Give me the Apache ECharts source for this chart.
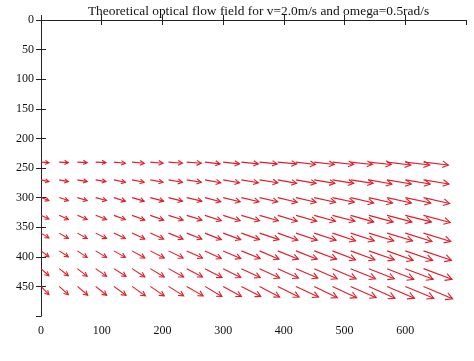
<!DOCTYPE html>
<html><head><meta charset="utf-8">
<script src="https://cdn.jsdelivr.net/npm/echarts@6/dist/echarts.min.js"></script>
<style>html,body{margin:0;padding:0;background:#fff}#c{width:474px;height:361px}</style>
</head><body><div id="c"></div>
<script>
const title = 'Theoretical optical flow field for v=2.0m/s and omega=0.5rad/s';
const xPositions = [0,30,60,90,120,150,180,210,240,270,300,330,360,390,420,450,480,510,540,570,600,630];
const yPositions = [240,270,300,330,360,390,420,450];
// horizontal flow component (data units) per row
const uRows = [
 [13,15,16,17,19,20,21,23,24,25,27,28,29,31,32,33,35,36,37,39,40,41],
 [13,15,16,17,19,20,21,23,24,26,27,28,30,31,33,34,35,37,38,40,41,42],
 [13,15,16,18,19,20,22,23,25,26,28,29,30,32,33,35,36,38,39,40,42,43],
 [13,15,16,18,19,21,22,24,25,27,28,30,31,32,34,35,37,38,40,41,43,44],
 [13,15,16,18,19,21,22,24,25,27,29,30,32,33,35,36,38,39,41,42,44,45],
 [13,15,16,18,19,21,23,24,26,27,29,31,32,34,35,37,38,40,42,43,45,46],
 [13,15,16,18,20,21,23,25,26,28,29,31,33,34,36,38,39,41,42,44,46,47],
 [13,15,17,18,20,22,23,25,27,28,30,32,33,35,37,38,40,42,43,45,47,48]
];
// vertical flow component (data units, positive = downward) per row
const vRows = [
 [1,1,1,1,2,2,2,2,2,3,3,3,3,3,4,4,4,4,4,5,5,5],
 [3,3,3,3,4,4,4,4,4,5,5,5,5,6,6,6,6,6,7,7,7,7],
 [5,5,5,5,6,6,6,6,6,7,7,7,7,8,8,8,8,9,9,9,9,10],
 [6,7,7,7,7,8,8,8,8,9,9,9,9,10,10,10,10,11,11,11,11,12],
 [8,9,9,9,9,10,10,10,10,11,11,11,11,12,12,12,13,13,13,13,14,14],
 [10,10,11,11,11,12,12,12,12,13,13,13,14,14,14,14,15,15,15,16,16,16],
 [12,12,13,13,13,14,14,14,14,15,15,15,16,16,16,17,17,17,17,18,18,18],
 [14,14,15,15,15,16,16,16,16,17,17,17,18,18,18,19,19,19,20,20,20,21]
];
const xTicks = [0,100,200,300,400,500,600];
const yTicks = [0,50,100,150,200,250,300,350,400,450];

const data = [];
yPositions.forEach((y, r) => {
  xPositions.forEach((x, c) => {
    data.push([x, y, uRows[r][c], vRows[r][c]]);
  });
});

const arrowColor = '#e11d2a';
const font = 'Liberation Serif';

function renderArrow(params, api) {
  const x = api.value(0), y = api.value(1), u = api.value(2), v = api.value(3);
  const p0 = api.coord([x, y]);
  const p1 = api.coord([x + u, y + v]);
  const dx = p1[0] - p0[0], dy = p1[1] - p0[1];
  const len = Math.sqrt(dx * dx + dy * dy);
  const ang = Math.atan2(dy, dx);
  const hl = 3 + len * 0.15;
  const ha = 0.5;
  const h1 = [p1[0] - hl * Math.cos(ang - ha), p1[1] - hl * Math.sin(ang - ha)];
  const h2 = [p1[0] - hl * Math.cos(ang + ha), p1[1] - hl * Math.sin(ang + ha)];
  const style = { stroke: arrowColor, lineWidth: 1.1, fill: null };
  return {
    type: 'group',
    children: [
      { type: 'line', shape: { x1: p0[0], y1: p0[1], x2: p1[0], y2: p1[1] }, style: style },
      { type: 'polyline', shape: { points: [h1, p1, h2] }, style: style }
    ]
  };
}

const axisLineStyle = { color: '#222', width: 1 };
const chart = echarts.init(document.getElementById('c'), null, { renderer: 'canvas' });
chart.setOption({
  animation: false,
  backgroundColor: '#fff',
  title: {
    text: title, left: 253.5, textAlign: 'center', top: 0,
    textStyle: { fontFamily: font, fontWeight: 'normal', fontSize: 13.4, color: '#111' }
  },
  grid: { left: 41, right: 8, top: 20, bottom: 45, containLabel: false },
  xAxis: [{
    type: 'value', min: 0, max: 700, interval: 100, position: 'bottom',
    axisLine: { show: true, lineStyle: axisLineStyle },
    axisTick: { show: true, inside: true, length: 5, lineStyle: axisLineStyle },
    axisLabel: { show: true, showMaxLabel: false, margin: 9, fontFamily: font, fontSize: 12, color: '#111',
      formatter: v => xTicks.indexOf(v) >= 0 ? String(v) : '' },
    splitLine: { show: false }
  }, {
    type: 'value', min: 0, max: 700, interval: 100, position: 'top',
    axisLine: { show: true, lineStyle: axisLineStyle },
    axisTick: { show: true, inside: true, length: 5, lineStyle: axisLineStyle },
    axisLabel: { show: false }, splitLine: { show: false }
  }],
  yAxis: [{
    type: 'value', min: 0, max: 500, interval: 50, inverse: true, position: 'left',
    axisLine: { show: true, lineStyle: axisLineStyle },
    axisTick: { show: true, inside: true, length: 5, lineStyle: axisLineStyle },
    axisLabel: { show: true, showMaxLabel: false, margin: 7, fontFamily: font, fontSize: 12, color: '#111',
      formatter: v => yTicks.indexOf(v) >= 0 ? String(v) : '' },
    splitLine: { show: false }
  }, {
    type: 'value', min: 0, max: 500, interval: 50, inverse: true, position: 'right',
    axisLine: { show: true, lineStyle: axisLineStyle },
    axisTick: { show: true, inside: true, length: 5, lineStyle: axisLineStyle },
    axisLabel: { show: false }, splitLine: { show: false }
  }],
  series: [{
    type: 'custom',
    xAxisIndex: 0, yAxisIndex: 0,
    renderItem: renderArrow,
    clip: false,
    encode: { x: 0, y: 1 },
    data: data
  }]
});
</script></body></html>
